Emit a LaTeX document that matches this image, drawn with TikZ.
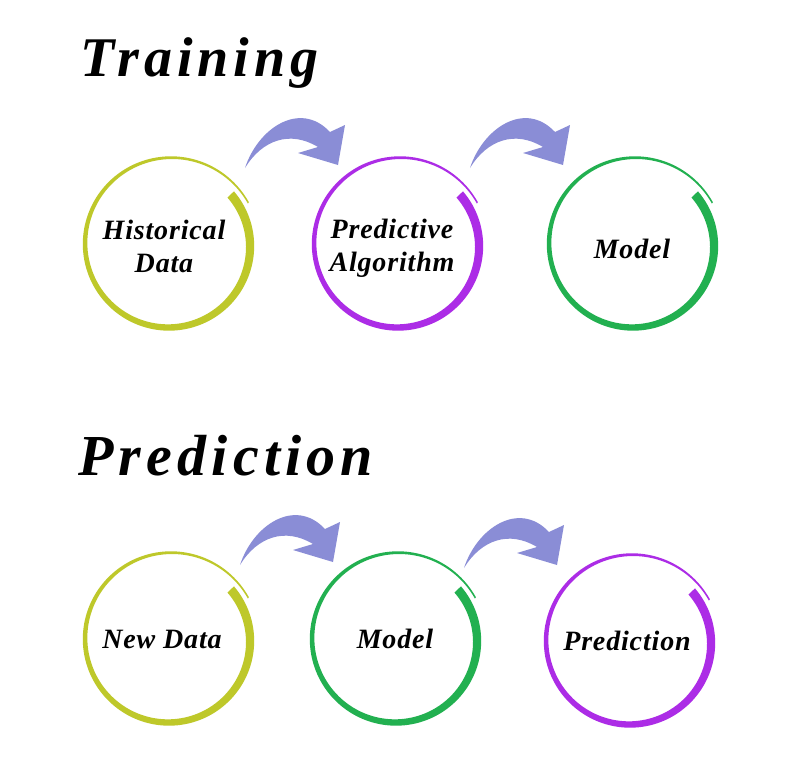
\documentclass[tikz,border=0pt]{standalone}
\usepackage{fontspec}
\setmainfont{Liberation Serif}
\newfontfamily\titlefont[LetterSpace=9]{Liberation Serif}
\newfontfamily\labelfont[LetterSpace=3]{Liberation Serif}
\definecolor{ringyellow}{RGB}{190,200,42}
\definecolor{ringpurple}{RGB}{172,44,230}
\definecolor{ringgreen}{RGB}{34,176,80}
\definecolor{arrowblue}{RGB}{138,141,214}
\newcommand\brushring[4]{%
  \coordinate (#4) at (#1,#2);
  \fill[#3] plot[variable=\t, domain=0:1, samples=120, smooth]
    ({#1+(79+10*\t+(9-7.5*\t)/2)*cos(40-372*\t)},{#2-(79+10*\t+(9-7.5*\t)/2)*sin(40-372*\t)})
    -- plot[variable=\t, domain=1:0, samples=120, smooth]
    ({#1+(79+10*\t-(9-7.5*\t)/2)*cos(40-372*\t)},{#2-(79+10*\t-(9-7.5*\t)/2)*sin(40-372*\t)})
    -- cycle;}
\tikzset{
  titletext/.style={anchor=base west, inner sep=0pt, font=\titlefont\bfseries\itshape},
  labeltext/.style={inner sep=0pt, align=center, font=\labelfont\bfseries\itshape\fontsize{28}{33}\selectfont},
  fatarrow/.style={fill=arrowblue}
}
\newcommand\fatarrow[3]{%
  \begin{scope}[shift={(#1,#2)}]
    \coordinate (#3) at (290,140);
    \fill[fatarrow] (245,168) .. controls (258,128) and (300,100) .. (330,132)
      -- (345,125) -- (338,165) -- (298,153) -- (318,147)
      .. controls (290,130) and (262,140) .. (245,168) -- cycle;
  \end{scope}}
\begin{document}
\begin{tikzpicture}[x=1pt,y=-1pt]
\useasboundingbox (0,0) rectangle (800,771);
\fill[white] (0,0) rectangle (800,771);

\node[titletext, font=\titlefont\bfseries\itshape\fontsize{56}{60}\selectfont] (ttrain) at (80,76) {Training};
\node[titletext, font=\titlefont\bfseries\itshape\fontsize{58}{62}\selectfont] (tpred) at (78,475) {Prediction};

\brushring{170}{245}{ringyellow}{c1}
\brushring{399}{245}{ringpurple}{c2}
\brushring{634}{245}{ringgreen}{c3}
\brushring{170}{640}{ringyellow}{c4}
\brushring{397}{640}{ringgreen}{c5}
\brushring{631}{642}{ringpurple}{c6}

\fatarrow{0}{0}{a1}
\fatarrow{225}{0}{a2}
\fatarrow{-5}{397}{a3}
\fatarrow{219}{400}{a4}

\node[labeltext] (l1) at (164,246) {Historical\\Data};
\node[labeltext] (l2) at (392,248) {Predictive\\Algorithm};
\node[labeltext, anchor=base] (l3) at (632,258) {Model};
\node[labeltext, anchor=base] (l4) at (162,648) {New Data};
\node[labeltext, anchor=base] (l5) at (395,648) {Model};
\node[labeltext, anchor=base] (l6) at (627,650) {Prediction};
\end{tikzpicture}
\end{document}
